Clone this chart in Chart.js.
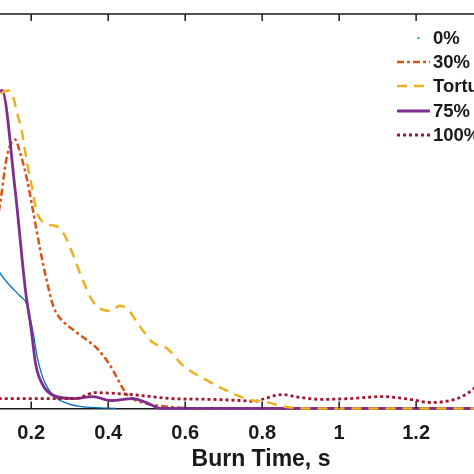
<!DOCTYPE html>
<html>
<head>
<meta charset="utf-8">
<script src="https://cdn.jsdelivr.net/npm/chart.js@4.4.1/dist/chart.umd.min.js"></script>
<style>
  html, body { margin: 0; padding: 0; background: #fff; overflow: hidden; width: 474px; height: 474px; }
  #wrap { position: absolute; left: -40px; top: 0; width: 602px; height: 474px; }
</style>
</head>
<body>
<div id="wrap"><canvas id="burnChart"></canvas></div>
<script>
// series labels, as in the legend
const seriesLabels = ["0%", "30%", "Tortuous", "75%", "100%"];
const xTicks = [0.2, 0.4, 0.6, 0.8, 1, 1.2, 1.4];

// burn time (s) and signal value for each series
const t0 = [0.10, 0.119, 0.145, 0.171, 0.189, 0.205, 0.215, 0.231, 0.257, 0.293, 0.345, 0.42];
const v0 = [38, 34.3, 31.1, 28.5, 26.3, 19.2, 13.4, 7.6, 3.3, 1.3, 0.3, 0];

const t30 = [0.10, 0.119, 0.137, 0.158, 0.171, 0.189, 0.205, 0.223, 0.241, 0.257, 0.270, 0.319, 0.371, 0.405, 0.438, 0.451, 0.496, 0.548, 0.64, 1.6];
const v30 = [42, 51.8, 63.9, 68.2, 64.9, 58.1, 50, 40.4, 32.1, 26, 23.5, 19.2, 15.2, 10.9, 5.1, 3.3, 1.3, 0.5, 0, 0];

const tTort = [0.10, 0.119, 0.140, 0.153, 0.163, 0.176, 0.189, 0.202, 0.215, 0.231, 0.249, 0.270, 0.288, 0.306, 0.335, 0.361, 0.379, 0.405, 0.431, 0.449, 0.483, 0.516, 0.553, 0.594, 0.657, 0.724, 0.776, 0.802, 0.854, 0.924, 1.6];
const vTort = [76, 79.5, 80.6, 79.0, 75.0, 70.0, 62.4, 56.1, 49.7, 47.2, 46.5, 46.0, 43.7, 39.6, 32.3, 27.0, 25.3, 24.7, 26.0, 25.3, 20.7, 16.7, 15.2, 10.9, 7.1, 3.8, 2.0, 1.8, 0.5, 0, 0];

const t75 = [0.10, 0.124, 0.158, 0.185, 0.200, 0.212, 0.231, 0.257, 0.309, 0.361, 0.405, 0.465, 0.51, 0.535, 1.6];
const v75 = [78, 80.6, 55.6, 30, 20, 11, 5.8, 3.3, 2.5, 3.0, 2.0, 2.5, 1.0, 0, 0];

const t100 = [0.10, 0.119, 0.249, 0.314, 0.366, 0.418, 0.483, 0.561, 0.664, 0.742, 0.781, 0.807, 0.851, 0.898, 0.950, 1.028, 1.114, 1.184, 1.236, 1.288, 1.319, 1.35, 1.38];
const v100 = [2.5, 2.5, 2.5, 2.5, 4.0, 3.8, 3.3, 2.5, 2.3, 2.0, 1.8, 2.5, 3.5, 2.8, 2.3, 2.5, 3.0, 2.3, 1.5, 2.0, 3.0, 5.0, 8.0];

const colors = ["#0072BD", "#D95319", "#EDB120", "#7E2F8E", "#A2142F"];
const widths = [1.3, 2.5, 2.5, 2.8, 2.8];
const dashes = [[], [7, 3, 3, 3], [10, 7], [], [3, 3]];
const orders = [4, 3, 0, 2, 1];

const allT = [t0, t30, tTort, t75, t100];
const allV = [v0, v30, vTort, v75, v100];

const datasets = seriesLabels.map((label, i) => ({
  label: label,
  data: allT[i].map((t, j) => ({ x: t, y: allV[i][j] })),
  borderColor: colors[i],
  borderWidth: widths[i],
  borderDash: dashes[i],
  pointRadius: 0,
  cubicInterpolationMode: "monotone",
  fill: false,
  order: orders[i],
  clip: { left: 0, top: 0, right: 0, bottom: 4 },
}));

const OFFSET = 40; // canvas starts left of the window

// MATLAB-style box: top line, ticks pointing inward, and the legend
const boxPlugin = {
  id: "box",
  afterDraw(chart) {
    const ctx = chart.ctx;
    const area = chart.chartArea;
    const xs = chart.scales.x;
    ctx.save();
    ctx.strokeStyle = "#1a1a1a";
    ctx.lineWidth = 1.5;
    ctx.beginPath();
    ctx.moveTo(area.left, area.top);
    ctx.lineTo(area.right, area.top);
    ctx.stroke();
    for (const t of xTicks) {
      const px = xs.getPixelForValue(t);
      ctx.beginPath();
      ctx.moveTo(px, area.bottom);
      ctx.lineTo(px, area.bottom - 7);
      ctx.moveTo(px, area.top);
      ctx.lineTo(px, area.top + 7);
      ctx.stroke();
    }
    // legend
    const rowY = [38, 62, 86, 111, 135];
    const x0 = 397 + OFFSET, x1 = 430 + OFFSET;
    ctx.font = "bold 18.5px 'Liberation Sans', Arial, sans-serif";
    ctx.textBaseline = "middle";
    ctx.textAlign = "left";
    seriesLabels.forEach((label, i) => {
      const y = rowY[i];
      ctx.strokeStyle = colors[i];
      ctx.fillStyle = colors[i];
      if (i === 0) {
        ctx.beginPath();
        ctx.arc((x0 + x1) / 2 + 5, y, 1, 0, Math.PI * 2);
        ctx.fill();
      } else {
        ctx.lineWidth = widths[i];
        ctx.setLineDash(dashes[i]);
        ctx.beginPath();
        ctx.moveTo(x0, y);
        ctx.lineTo(x1, y);
        ctx.stroke();
        ctx.setLineDash([]);
      }
      ctx.fillStyle = "#1a1a1a";
      ctx.fillText(label, x1 + 3, y + 1);
    });
    ctx.restore();
  },
};

new Chart(document.getElementById("burnChart"), {
  type: "line",
  data: { datasets: datasets },
  options: {
    responsive: true,
    maintainAspectRatio: false,
    devicePixelRatio: 1,
    animation: false,
    layout: { padding: { top: 14, bottom: 1, left: 0, right: 0 } },
    plugins: { legend: { display: false }, tooltip: { enabled: false } },
    scales: {
      x: {
        type: "linear",
        min: 0.015,
        max: 1.579,
        afterBuildTicks: (scale) => {
          scale.ticks = xTicks.map((v) => ({ value: v }));
        },
        grid: { display: false, drawTicks: false },
        border: { display: true, color: "#1a1a1a", width: 1.5 },
        ticks: {
          color: "#1a1a1a",
          padding: 13,
          maxRotation: 0,
          autoSkip: false,
          font: { family: "'Liberation Sans', Arial, sans-serif", size: 20, weight: "bold" },
          callback: (v) => String(Math.round(v * 10) / 10),
        },
        title: {
          display: true,
          text: "Burn Time, s",
          color: "#1a1a1a",
          padding: { top: -13, bottom: 0 },
          font: { family: "'Liberation Sans', Arial, sans-serif", size: 23, weight: "bold" },
        },
      },
      y: {
        display: false,
        min: 0,
        max: 100,
      },
    },
  },
  plugins: [boxPlugin],
});
</script>
</body>
</html>
